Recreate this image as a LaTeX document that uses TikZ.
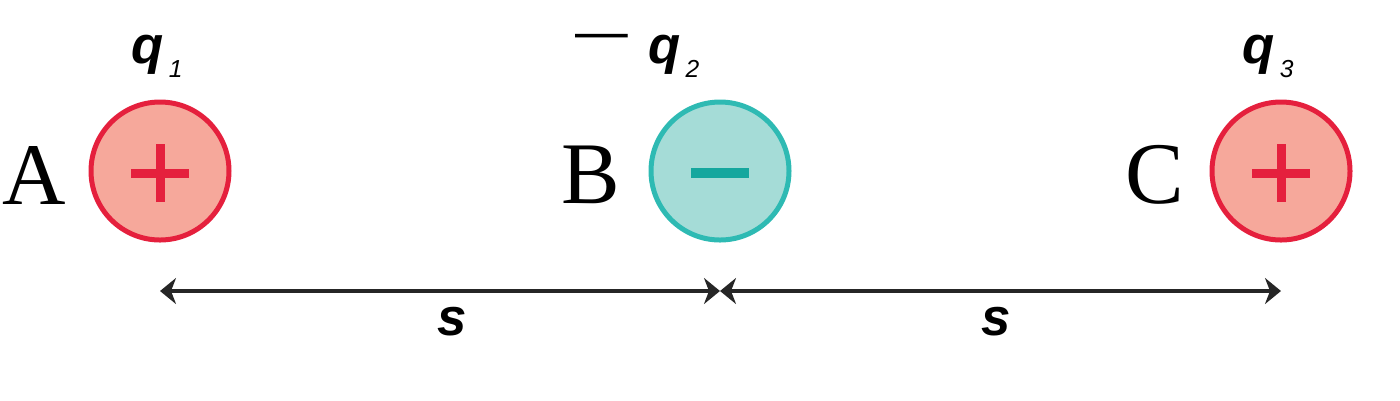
\documentclass[tikz,border=0pt]{standalone}
\usepackage{fontspec}
\setmainfont{Liberation Serif}
\setsansfont{Liberation Sans}
\usetikzlibrary{positioning,arrows.meta}

\definecolor{posfill}{HTML}{F6A89B}
\definecolor{posline}{HTML}{E5203D}
\definecolor{negfill}{HTML}{A5DCD7}
\definecolor{negline}{HTML}{2EBAB3}
\definecolor{negsign}{HTML}{15A79E}

\newcommand{\chglabel}[1]{{\fontsize{15}{15}\selectfont\sffamily\bfseries\itshape q}\kern0.05cm{\fontsize{7}{7}\selectfont\sffamily\itshape\raisebox{-0.14cm}{#1}}}

\begin{document}
\begin{tikzpicture}[
        charge/.style={circle,minimum size=1.38cm,inner sep=0pt,line width=0.05cm},
        poscharge/.style={charge,draw=posline,fill=posfill,
            path picture={\draw[posline,line width=0.09cm]
                ([xshift=-0.29cm,yshift=-0.02cm]path picture bounding box.center) -- ([xshift=0.29cm,yshift=-0.02cm]path picture bounding box.center)
                ([yshift=-0.31cm]path picture bounding box.center) -- ([yshift=0.27cm]path picture bounding box.center);}},
        negcharge/.style={charge,draw=negline,fill=negfill,
            path picture={\draw[negsign,line width=0.1cm]
                ([xshift=-0.29cm,yshift=-0.02cm]path picture bounding box.center) -- ([xshift=0.29cm,yshift=-0.02cm]path picture bounding box.center);}},
        point/.style={inner sep=0pt,font=\fontsize{25}{25}\selectfont,yshift=-0.04cm},
        qlab/.style={inner sep=0pt,anchor=base west},
        dist/.style={line width=0.035cm,draw=black!85,{Stealth[length=0.16cm,width=0.26cm,inset=0.05cm]}-{Stealth[length=0.16cm,width=0.26cm,inset=0.05cm]}},
        slab/.style={inner sep=0pt,font=\fontsize{15}{15}\selectfont\sffamily\bfseries\itshape}
    ]
    \useasboundingbox (0,0) rectangle (14,4);

    \node[poscharge] (a) at (1.60,2.29) {};
    \node[negcharge] (b) at (7.20,2.29) {};
    \node[poscharge] (c) at (12.81,2.29) {};

    \node[point,left=0.22cm of a] (la) {A};
    \node[point,left=0.28cm of b] (lb) {B};
    \node[point,left=0.25cm of c] (lc) {C};

    \node[qlab] (q1) at (1.31,3.37) {\chglabel{1}};
    \node[qlab] (q2) at (5.75,3.37) {{\fontsize{15}{15}\selectfont\sffamily\raisebox{0.14cm}{—}}\hspace{0.2cm}\chglabel{2}};
    \node[qlab] (q3) at (12.42,3.37) {\chglabel{3}};

    \coordinate (da) at ([yshift=-1.20cm]a.center);
    \coordinate (db) at ([yshift=-1.20cm]b.center);
    \coordinate (dc) at ([yshift=-1.20cm]c.center);

    \draw[dist] (da) -- node[slab,below=0.14cm,xshift=0.12cm] (s1) {s} (db);
    \draw[dist] (db) -- node[slab,below=0.14cm,xshift=-0.04cm] (s2) {s} (dc);
\end{tikzpicture}
\end{document}
